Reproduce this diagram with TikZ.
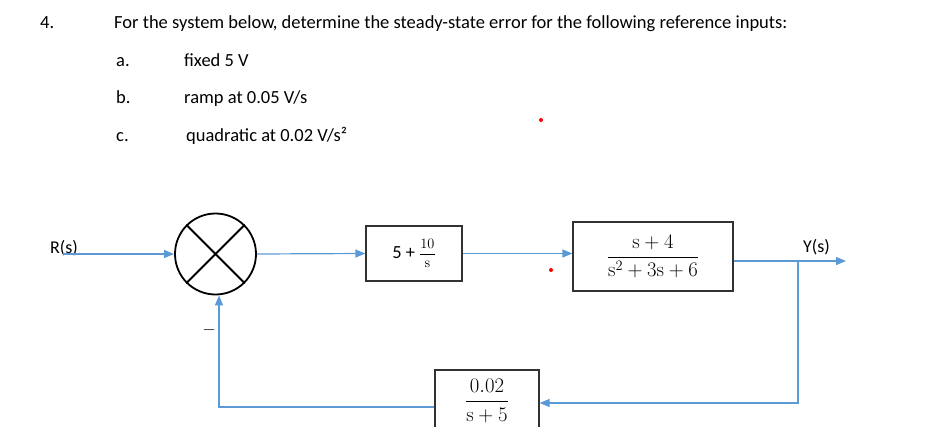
\documentclass[tikz,border=0pt]{standalone}
\usepackage{amsmath}
\usepackage[no-math]{fontspec}
\setmainfont{Carlito}
\usetikzlibrary{arrows.meta,positioning,calc}
\definecolor{lineblue}{RGB}{91,155,213}
\definecolor{boxgray}{RGB}{50,50,50}

\begin{document}
\begin{tikzpicture}[x=1pt,y=-1pt,
    blk/.style={draw=boxgray, line width=1.2pt, inner sep=0pt},
    sig/.style={draw=lineblue, line width=1.2pt},
    tip/.style={-{Triangle[length=10pt,width=8pt]}},
    txt/.style={anchor=base west, inner sep=0pt, font=\fontsize{18.5}{22}\selectfont}]
    \clip (0,0) rectangle (935,426);
    % question text
    \node[txt] (num)  at (40,28)  {4.};
    \node[txt] (task) at (114,28) {For the system below, determine the steady-state error for the following reference inputs:};
    \node[txt] (ia) at (116,66)  {a.};
    \node[txt] (ta) at (184,66)  {fixed 5 V};
    \node[txt] (ib) at (116,103) {b.};
    \node[txt] (tb) at (184,103) {ramp at 0.05 V/s};
    \node[txt] (ic) at (116,141) {c.};
    \node[txt] (tc) at (186,141) {quadratic at 0.02 V/s²};
    % block diagram
    \node[circle, draw, line width=1.8pt, minimum size=81pt, inner sep=0pt] (sum) at (215.5,254) {};
    \draw[line width=1.8pt] (sum.north west) -- (sum.south east)
                            (sum.north east) -- (sum.south west);
    \node[blk, minimum width=96pt, minimum height=55pt, font=\fontsize{18.5}{22}\selectfont] (gc) at (414,253.5)
      {5 + {\fontsize{14.4}{17}\selectfont$\dfrac{10}{\mathrm{s}}$}};
    \node[blk, minimum width=160pt, minimum height=69pt, font=\fontsize{20}{24}\selectfont] (gp) at (653,256.5)
      {$\dfrac{\mathrm{s}+4}{\mathrm{s}^2+3\mathrm{s}+6}$};
    \node[blk, minimum width=104pt, minimum height=62pt, font=\fontsize{20}{24}\selectfont] (hs) at (487,401)
      {$\dfrac{0.02}{\mathrm{s}+5}$};
    \coordinate (rin)  at (63,254);
    \coordinate (yout) at (846,261);
    \coordinate (br)   at (798,261);
    \node[txt, font=\fontsize{18}{22}\selectfont] (rlab) at (50,253)  {R(s)};
    \node[txt, font=\fontsize{18}{22}\selectfont] (ylab) at (803,252) {Y(s)};
    \node[inner sep=0pt, font=\fontsize{18}{22}\selectfont] (neg) at (209,330) {$-$};
    % signals
    \draw[sig, tip] (rin) -- (sum.west);
    \draw[sig, tip] (sum.east) -- (gc.west);
    \draw[sig, tip] (gc.east) -- (gc.east -| gp.west);
    \draw[sig, tip] (gp.east |- yout) -- (yout);
    \draw[sig, tip] (br) |- ($(hs.east)+(0,2)$);
    \draw[sig, tip] ($(hs.west)+(0,6)$) -| ($(sum.south)+(3.5,0)$);
    % stray marks
    \fill[red] (541,120) circle (2pt);
    \fill[red] (551,270) circle (2pt);
\end{tikzpicture}
\end{document}
